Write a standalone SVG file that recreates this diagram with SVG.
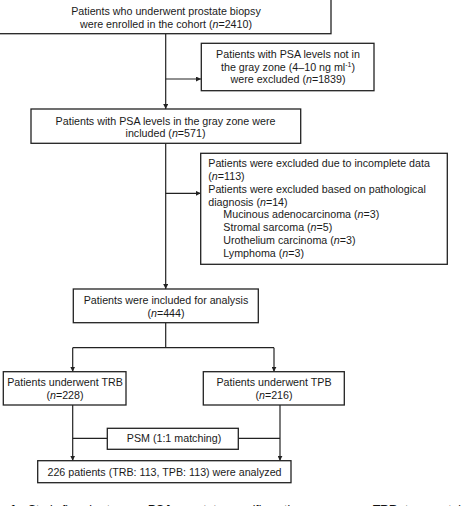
<svg xmlns="http://www.w3.org/2000/svg" width="474" height="506" viewBox="0 0 474 506">
<style>
.box{fill:#fff;stroke:#222;stroke-width:1.3}
.t{font-family:"Liberation Sans",Arial,sans-serif;font-size:10.7px;fill:#1a1a1a}
.c{text-anchor:middle}
.ln{fill:none;stroke:#222;stroke-width:1.2}
.cap{font-family:"Liberation Sans",Arial,sans-serif;font-size:12px;fill:#111}
</style>
<defs>
<marker id="ah" viewBox="0 0 10 10" refX="10" refY="5" markerWidth="5" markerHeight="5" markerUnits="userSpaceOnUse" orient="auto">
<path d="M0,0 L10,5 L0,10 z" fill="#222"/>
</marker>
</defs>
<rect width="474" height="506" fill="#fff"/>
<g id="connectors">
<path class="ln" d="M165.7,33.7 V109" marker-end="url(#ah)"/>
<path class="ln" d="M165.7,79 H201" marker-end="url(#ah)"/>
<path class="ln" d="M165.7,143.3 V289" marker-end="url(#ah)"/>
<path class="ln" d="M165.7,193.3 H200.7" marker-end="url(#ah)"/>
<path class="ln" d="M165.7,322.7 V347.7"/>
<path class="ln" d="M72.7,347.7 H274"/>
<path class="ln" d="M72.7,347.7 V371.7" marker-end="url(#ah)"/>
<path class="ln" d="M274,347.7 V371.7" marker-end="url(#ah)"/>
<path class="ln" d="M72.7,405 V460.7" marker-end="url(#ah)"/>
<path class="ln" d="M280,405 V460.7" marker-end="url(#ah)"/>
<path class="ln" d="M72.7,438.3 H107.3 M238.3,438.3 H280"/>
</g>
<g id="n1">
<rect class="box" x="-1" y="-5" width="332" height="38.7"/>
<text class="t c" x="166" y="15">Patients who underwent prostate biopsy</text>
<text class="t c" x="166" y="27.5">were enrolled in the cohort (<tspan font-style="italic">n</tspan>=2410)</text>
</g>
<g id="n2">
<rect class="box" x="201.3" y="43.3" width="172.7" height="47.4"/>
<text class="t c" x="288" y="58">Patients with PSA levels not in</text>
<text class="t c" x="288" y="70.5">the gray zone (4–10 ng ml<tspan font-size="7" dy="-4">-1</tspan><tspan dy="4">)</tspan></text>
<text class="t c" x="288" y="83">were excluded (<tspan font-style="italic">n</tspan>=1839)</text>
</g>
<g id="n3">
<rect class="box" x="31" y="109" width="269.7" height="34.3"/>
<text class="t c" x="165.5" y="125">Patients with PSA levels in the gray zone were</text>
<text class="t c" x="165.5" y="137">included (<tspan font-style="italic">n</tspan>=571)</text>
</g>
<g id="n4">
<rect class="box" x="200.7" y="153.3" width="246.6" height="111"/>
<text class="t" x="208.3" y="167.3">Patients were excluded due to incomplete data</text>
<text class="t" x="208.3" y="180">(<tspan font-style="italic">n</tspan>=113)</text>
<text class="t" x="208.3" y="192.8">Patients were excluded based on pathological</text>
<text class="t" x="208.3" y="205.5">diagnosis (<tspan font-style="italic">n</tspan>=14)</text>
<text class="t" x="223.3" y="218.3">Mucinous adenocarcinoma (<tspan font-style="italic">n</tspan>=3)</text>
<text class="t" x="223.3" y="231">Stromal sarcoma (<tspan font-style="italic">n</tspan>=5)</text>
<text class="t" x="223.3" y="243.8">Urothelium carcinoma (<tspan font-style="italic">n</tspan>=3)</text>
<text class="t" x="223.3" y="256.5">Lymphoma (<tspan font-style="italic">n</tspan>=3)</text>
</g>
<g id="n5">
<rect class="box" x="73.3" y="289" width="185" height="33.7"/>
<text class="t c" x="166" y="304">Patients were included for analysis</text>
<text class="t c" x="166" y="316.5">(<tspan font-style="italic">n</tspan>=444)</text>
</g>
<g id="n6">
<rect class="box" x="3.3" y="371.7" width="122.7" height="33.3"/>
<text class="t c" x="65" y="386">Patients underwent TRB</text>
<text class="t c" x="65" y="398.5">(<tspan font-style="italic">n</tspan>=228)</text>
</g>
<g id="n7">
<rect class="box" x="203.3" y="371.7" width="141" height="33.3"/>
<text class="t c" x="274" y="386">Patients underwent TPB</text>
<text class="t c" x="274" y="398.5">(<tspan font-style="italic">n</tspan>=216)</text>
</g>
<g id="n8">
<rect class="box" x="107.3" y="428.3" width="131" height="21"/>
<text class="t c" x="174" y="442.3">PSM (1:1 matching)</text>
</g>
<g id="n9">
<rect class="box" x="37.7" y="460.7" width="253.3" height="22"/>
<text class="t c" x="164.5" y="475.5">226 patients (TRB: 113, TPB: 113) were analyzed</text>
</g>
<g id="caption">
<text class="cap" x="10" y="513.5" font-weight="bold">1</text>
<text class="cap" x="28" y="513.5">Study flowchart.</text>
<text class="cap" x="148" y="513.5" font-weight="bold">PSA:</text>
<text class="cap" x="180" y="513.5">prostate-specific antigen;</text>
<text class="cap" x="373" y="513.5" font-weight="bold">TRB:</text>
<text class="cap" x="405" y="513.5">transrectal</text>
</g>
</svg>
